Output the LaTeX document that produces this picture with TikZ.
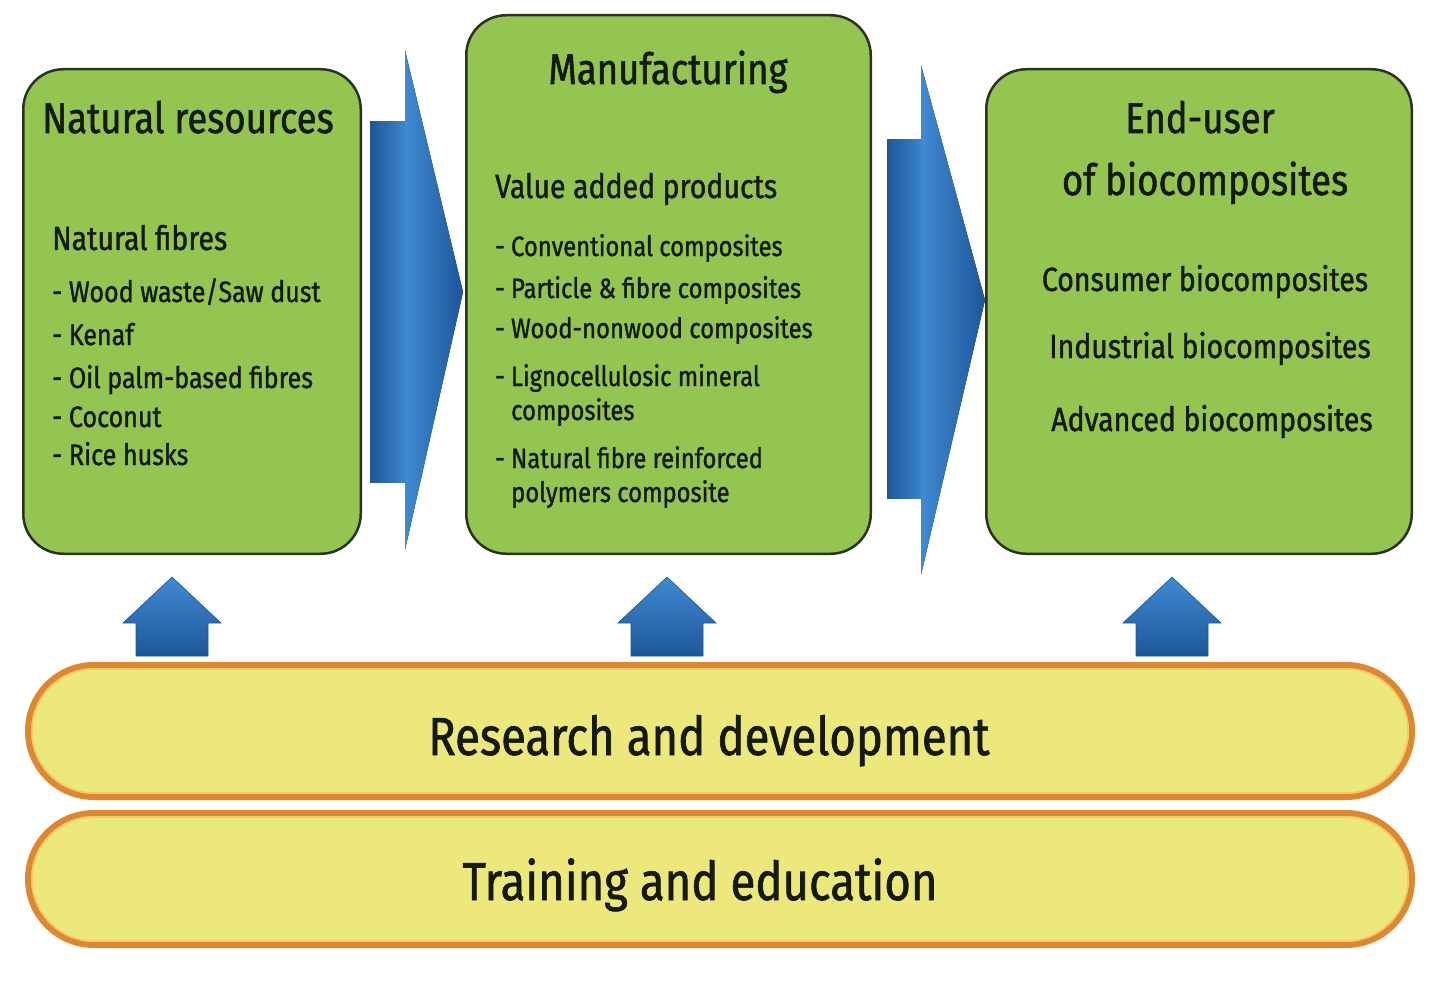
\documentclass[tikz,border=0pt]{standalone}
\usepackage{fontspec}
\setmainfont{Fira Sans}[FakeStretch=0.85, FakeBold=1.2]
\usetikzlibrary{shapes.misc,calc}
\definecolor{boxgreen}{HTML}{93C550}
\definecolor{boxline}{HTML}{2B3320}
\definecolor{arrowdark}{HTML}{1E5699}
\definecolor{arrowmid}{HTML}{2A6DB8}
\definecolor{arrowlight}{HTML}{3F8AD2}
\definecolor{pillfill}{HTML}{ECE87C}
\definecolor{pillline}{HTML}{E0862E}
\definecolor{pillinner}{HTML}{F4C66E}
\definecolor{txt}{HTML}{151A10}
\begin{document}
\begin{tikzpicture}[x=1pt,y=-1pt,
  greenbox/.style={draw=boxline, line width=2.5pt, fill=boxgreen, rounded corners=40pt, rectangle, inner sep=0pt},
  pill/.style={draw=pillline, line width=6pt, fill=pillfill, rounded rectangle, inner sep=0pt, minimum width=1384pt, minimum height=132pt},
  pillrim/.style={draw=pillinner, line width=1.5pt, rounded rectangle, inner sep=0pt, minimum width=1376pt, minimum height=124pt},
  head/.style={font=\fontsize{43}{48}\selectfont, text=txt, inner sep=0pt, anchor=base},
  sub/.style={font=\fontsize{33.5}{36}\selectfont, text=txt, inner sep=0pt, anchor=base west},
  item/.style={font=\fontsize{28}{32}\selectfont, text=txt, inner sep=0pt, anchor=base west},
  itemb/.style={item, font=\fontsize{29.5}{32}\selectfont},
  enduse/.style={font=\fontsize{33.5}{38}\selectfont, text=txt, inner sep=0pt, anchor=base},
  pilltext/.style={font=\fontsize{53.5}{60}\selectfont, text=txt, inner sep=0pt, anchor=base},
  flowshaft/.style={left color=arrowdark, right color=arrowlight},
  flowhead/.style={left color=arrowlight, right color=arrowdark},
  uparrow/.style={top color=arrowlight, bottom color=arrowdark, draw=arrowdark, line width=0.6pt}
]
\useasboundingbox[fill=white] (0,0) rectangle (1454,987);

% green boxes
\node[greenbox, minimum width=337.5pt, minimum height=484.5pt] (nr) at (192,311.5) {};
\node[greenbox, minimum width=404.5pt, minimum height=538.5pt] (mf) at (668.5,284.5) {};
\node[greenbox, minimum width=425.5pt, minimum height=484.5pt] (eu) at (1199,311.5) {};

% flow arrows
\fill[flowshaft] (370,122) rectangle (409,482);
\fill[flowhead] (405,50) -- (463,292) -- (405,550) -- cycle;
\fill[flowshaft] (887,140) rectangle (926,498);
\fill[flowhead] (921,65) -- (985,300) -- (921,575) -- cycle;

% pills
\node[pill] (rd) at (720,731) {};
\node[pillrim] (rdrim) at (720,731) {};
\node[pill] (te) at (720,879) {};
\node[pillrim] (terim) at (720,879) {};

% up arrows
\foreach \cx/\nm in {172/ua1, 667/ua2, 1172/ua3}{
  \coordinate (\nm) at (\cx,656);
  \path[uparrow] ($(\nm)+(-36,0)$) -- ++(0,-33) -- ++(-13,0) -- ($(\nm)+(0,-79)$) -- ($(\nm)+(49,-33)$) -- ++(-13,0) -- ++(0,33) -- cycle;
}

% texts box 1
\node[head] (nrt) at (188,133) {Natural resources};
\node[sub] (nrs) at (52,250) {Natural fibres};
\node[itemb] (nr1) at (52,302) {- Wood waste/Saw dust};
\node[itemb] (nr2) at (52,345) {- Kenaf};
\node[itemb] (nr3) at (52,388) {- Oil palm-based fibres};
\node[itemb] (nr4) at (52,427) {- Coconut};
\node[itemb] (nr5) at (52,465) {- Rice husks};

% texts box 2
\node[head] (mft) at (668,84) {Manufacturing};
\node[sub] (mfs) at (495,198) {Value added products};
\node[item] (mf1) at (495,256) {- Conventional composites};
\node[item] (mf2) at (495,298) {- Particle \& fibre composites};
\node[item] (mf3) at (495,338) {- Wood-nonwood composites};
\node[item] (mf4) at (495,386) {- Lignocellulosic mineral};
\node[item] (mf4b) at (511,420) {composites};
\node[item] (mf5) at (495,468) {- Natural fibre reinforced};
\node[item] (mf5b) at (511,502) {polymers composite};

% texts box 3
\node[head] (eut1) at (1200,133) {End-user};
\node[head] (eut2) at (1205,195) {of biocomposites};
\node[enduse] (eu1) at (1205,291) {Consumer biocomposites};
\node[enduse] (eu2) at (1210,358) {Industrial biocomposites};
\node[enduse] (eu3) at (1212,431) {Advanced biocomposites};

% pill texts
\node[pilltext] (rdt) at (709,755) {Research and development};
\node[pilltext] (tet) at (700,900) {Training and education};
\end{tikzpicture}
\end{document}
